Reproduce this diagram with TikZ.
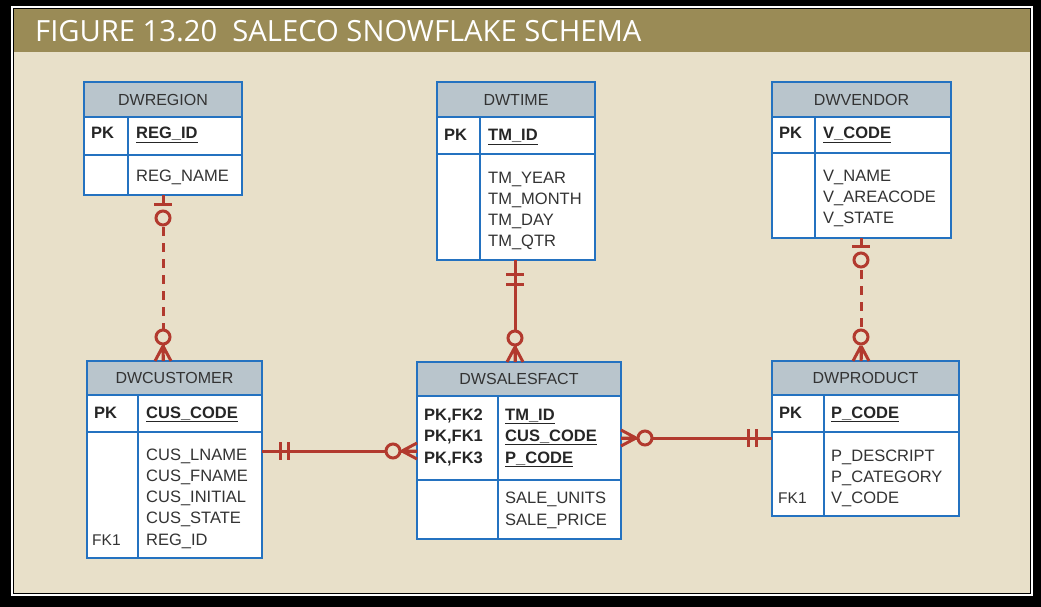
\documentclass[tikz,border=0pt]{standalone}
\usepackage{fontspec}
\setmainfont{Liberation Sans}
\newfontfamily\titlefont{Open Sans}
\usetikzlibrary{calc}
\definecolor{olive}{HTML}{9A8B56}
\definecolor{beige}{HTML}{E8E0C9}
\definecolor{hdr}{HTML}{B9C5CC}
\definecolor{tblue}{HTML}{2472C0}
\definecolor{rel}{HTML}{B23A2E}
\definecolor{txt}{HTML}{333333}
\newcommand\ertable[9]{%
 \fill[hdr] (#2,#3) rectangle (#4,#6);
 \fill[white] (#2,#6) rectangle (#4,#5);
 \draw[tb] (#2,#6)--(#4,#6) (#2,#7)--(#4,#7) (#8,#6)--(#8,#5);
 \draw[tb] (#2,#3) rectangle (#4,#5);
 \node[inner sep=0pt,minimum width={(#4-#2)*1pt},minimum height={(#5-#3)*1pt}] (#1) at ({(#2+#4)/2},{(#3+#5)/2}) {};
 \node[ttl] (#1-t) at ({(#2+#4)/2},{(#3+#6)/2}) {#9};}
\newcommand\crowV[2]{%
 \draw[relS] (#1,#2-15)--(#1-8,#2) (#1,#2-15)--(#1,#2) (#1,#2-15)--(#1+8,#2);
 \draw[relS,fill=beige] (#1,#2-24) circle (7pt);}
\newcommand\crowH[3]{% x edge, y, dir (+1 = points right)
 \draw[relS] (#1-15*#3,#2)--(#1,#2-8) (#1-15*#3,#2)--(#1,#2) (#1-15*#3,#2)--(#1,#2+8);
 \draw[relS,fill=beige] (#1-24*#3,#2) circle (7pt);}
\begin{document}
\begin{tikzpicture}[x=1pt,y=-1pt,
 tb/.style={draw=tblue,line width=2.4pt},
 ttl/.style={font=\fontsize{16}{16}\selectfont,text=txt,inner sep=0pt},
 attr/.style={font=\fontsize{16.5}{16.5}\selectfont,text=txt,anchor=base west,inner sep=0pt},
 kb/.style={font=\fontsize{16.5}{16.5}\selectfont\bfseries,text=black!85,anchor=base west,inner sep=0pt},
 relS/.style={draw=rel,line width=3pt,solid},
 relD/.style={draw=rel,line width=3pt,dash pattern=on 9pt off 7pt}]
\fill[black] (0,0) rectangle (1041,607);
\draw[white,line width=1.5pt] (12,7) rectangle (1032,595);
\fill[olive] (14,9) rectangle (1030,52);
\fill[beige] (14,52) rectangle (1030,593);
\node[anchor=west,inner sep=0pt,text=white] (title) at (35,31) {\resizebox{606pt}{!}{\titlefont FIGURE 13.20\ \ SALECO SNOWFLAKE SCHEMA}};
% tables
\ertable{reg}{84}{82}{242}{195}{117}{155}{128}{DWREGION}
\ertable{tim}{437}{82}{595}{260}{117}{154}{480}{DWTIME}
\ertable{ven}{772}{82}{951}{238}{117}{153}{815}{DWVENDOR}
\ertable{cus}{87}{361}{262}{558}{395}{432}{138}{DWCUSTOMER}
\ertable{sal}{417}{362}{621}{539}{396}{480}{498}{DWSALESFACT}
\ertable{pro}{772}{361}{959}{516}{395}{432}{824}{DWPRODUCT}
% texts
\node[kb] (t1) at (91,139) {PK}; \node[kb] (t2) at (136,139) {\underline{REG\_ID}};
\node[attr] (t3) at (136,181) {REG\_NAME};
\node[kb] (t4) at (444,141) {PK}; \node[kb] (t5) at (488,141) {\underline{TM\_ID}};
\node[attr] (t6) at (488,183) {TM\_YEAR}; \node[attr] (t7) at (488,204) {TM\_MONTH};
\node[attr] (t8) at (488,225) {TM\_DAY}; \node[attr] (t9) at (488,246) {TM\_QTR};
\node[kb] (t10) at (779,139) {PK}; \node[kb] (t11) at (823,139) {\underline{V\_CODE}};
\node[attr] (t12) at (823,181) {V\_NAME}; \node[attr] (t13) at (823,202) {V\_AREACODE};
\node[attr] (t14) at (823,223) {V\_STATE};
\node[kb] (t15) at (94,418) {PK}; \node[kb] (t16) at (146,418) {\underline{CUS\_CODE}};
\node[attr] (t17) at (146,460) {CUS\_LNAME}; \node[attr] (t18) at (146,481) {CUS\_FNAME};
\node[attr] (t19) at (146,502) {CUS\_INITIAL}; \node[attr] (t20) at (146,523) {CUS\_STATE};
\node[attr] (t21) at (146,545) {REG\_ID}; \node[attr,font=\fontsize{15.5}{15.5}\selectfont] (t22) at (92,545) {FK1};
\node[kb] (t23) at (424,420) {PK,FK2}; \node[kb] (t24) at (505,420) {\underline{TM\_ID}};
\node[kb] (t25) at (424,441) {PK,FK1}; \node[kb] (t26) at (505,441) {\underline{CUS\_CODE}};
\node[kb] (t27) at (424,463) {PK,FK3}; \node[kb] (t28) at (505,463) {\underline{P\_CODE}};
\node[attr] (t29) at (505,503) {SALE\_UNITS}; \node[attr] (t30) at (505,525) {SALE\_PRICE};
\node[kb] (t31) at (779,418) {PK}; \node[kb] (t32) at (831,418) {\underline{P\_CODE}};
\node[attr] (t33) at (831,461) {P\_DESCRIPT}; \node[attr] (t34) at (831,482) {P\_CATEGORY};
\node[attr] (t35) at (831,503) {V\_CODE}; \node[attr,font=\fontsize{15.5}{15.5}\selectfont] (t36) at (778,503) {FK1};
% connectors
\coordinate (c1) at (163,0); \coordinate (c2) at (515,0); \coordinate (c3) at (861,0);
\coordinate (r1) at (0,451); \coordinate (r2) at (0,438);
\draw[relD] (reg.south -| c1) -- (cus.north -| c1);
\draw[relS] (tim.south -| c2) -- (sal.north -| c2);
\draw[relD] (ven.south -| c3) -- (pro.north -| c3);
\draw[relS] (cus.east |- r1) -- (sal.west |- r1);
\draw[relS] (sal.east |- r2) -- (pro.west |- r2);
% symbols
\draw[relS] (154,204)--(172,204); \draw[relS,fill=beige] (163,218) circle (7pt);
\crowV{163}{361}
\draw[relS] (506,274)--(524,274) (506,284)--(524,284);
\crowV{515}{362}
\draw[relS] (852,246)--(870,246); \draw[relS,fill=beige] (861,260) circle (7pt);
\crowV{861}{361}
\draw[relS] (280,442)--(280,460) (288,442)--(288,460);
\crowH{417}{451}{1}
\draw[relS] (748,429)--(748,447) (756,429)--(756,447);
\crowH{621}{438}{-1}
\end{tikzpicture}
\end{document}
